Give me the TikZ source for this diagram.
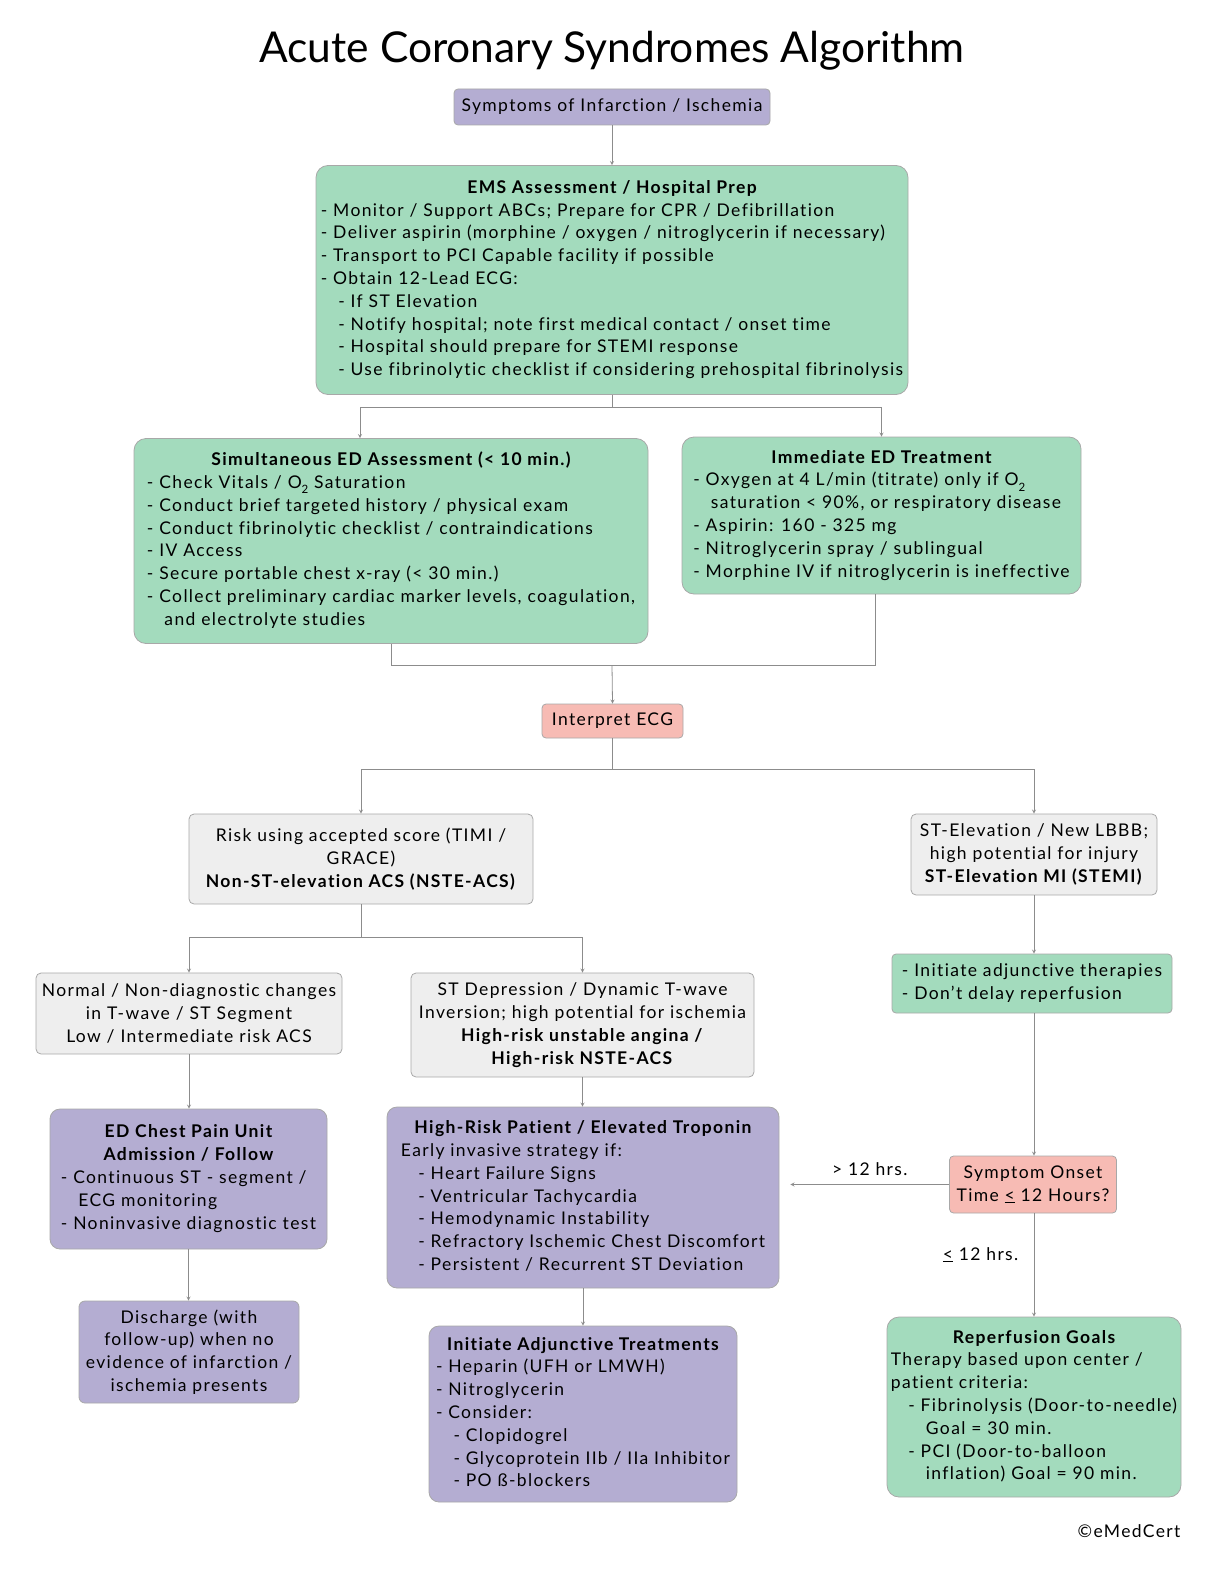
\documentclass[tikz,border=0pt]{standalone}
\usepackage{fontspec}
\setmainfont{Lato}[LetterSpace=7.8, Ligatures=NoCommon]
\newfontfamily\titlefont{Lato}
\usepackage{tikz}
\usetikzlibrary{positioning, calc, arrows.meta}
\newcommand{\bodysize}{\fontsize{17.5}{22.8}\selectfont}
\newcommand{\boxlines}[1]{\begin{tabular}{@{}l@{}}#1\end{tabular}}
\newcommand{\boxhead}[1]{\multicolumn{1}{@{}c@{}}{\bfseries #1}}
\newcommand{\subi}{\hspace*{1em}}
\newcommand{\subtwo}{\raisebox{-0.6ex}{\fontsize{11.5}{12}\selectfont 2}}
\definecolor{mintgreen}{HTML}{A3DBBD}
\definecolor{lavender}{HTML}{B4ADD2}
\definecolor{salmonpink}{HTML}{F7BBB4}
\definecolor{lightgrey}{HTML}{EEEEEE}
\definecolor{edgegrey}{HTML}{A8A8A8}
\definecolor{wiregrey}{HTML}{8C8C8C}
\tikzset{
  greenbox/.style={rectangle, rounded corners=12pt, draw=edgegrey, line width=0.8pt, fill=mintgreen, inner sep=3pt},
  purplebox/.style={rectangle, rounded corners=10pt, draw=edgegrey, line width=0.8pt, fill=lavender, inner sep=3pt},
  pinkbox/.style={rectangle, rounded corners=4pt, draw=edgegrey, line width=0.8pt, fill=salmonpink, inner sep=3pt, align=center},
  greybox/.style={rectangle, rounded corners=5pt, draw=edgegrey, line width=0.8pt, fill=lightgrey, inner sep=3pt, align=center},
  line/.style={draw=wiregrey, line width=0.8pt},
  arrow/.style={draw=wiregrey, line width=0.8pt, ->, >=stealth}
}

\begin{document}
\begin{tikzpicture}[x=1pt, y=-1pt, every node/.style={font=\bodysize}]
    \useasboundingbox (0,0) rectangle (1223,1584);

    \node (title) [font=\titlefont\fontsize{42.5}{50}\selectfont] at (612,51) {Acute Coronary Syndromes Algorithm};

    \node (sym) [purplebox, rounded corners=4pt, minimum width=316, minimum height=36] at (612,107) {Symptoms of Infarction / Ischemia};

    \node (ems) [greenbox, minimum width=592, minimum height=229] at (612,280) {\boxlines{%
      \boxhead{EMS Assessment / Hospital Prep}\\
      - Monitor / Support ABCs; Prepare for CPR / Defibrillation\\
      - Deliver aspirin (morphine / oxygen / nitroglycerin if necessary)\\
      - Transport to PCI Capable facility if possible\\
      - Obtain 12-Lead ECG:\\
      \subi - If ST Elevation\\
      \subi - Notify hospital; note first medical contact / onset time\\
      \subi - Hospital should prepare for STEMI response\\
      \subi - Use fibrinolytic checklist if considering prehospital fibrinolysis}};

    % Bloques en paralelo
    \node (sim) [greenbox, minimum width=514, minimum height=205] at (391,541) {\boxlines{%
      \boxhead{Simultaneous ED Assessment (< 10 min.)}\\
      - Check Vitals / O\subtwo{} Saturation\\
      - Conduct brief targeted history / physical exam\\
      - Conduct fibrinolytic checklist / contraindications\\
      - IV Access\\
      - Secure portable chest x-ray (< 30 min.)\\
      - Collect preliminary cardiac marker levels, coagulation,\\
      \subi and electrolyte studies}};

    \node (imm) [greenbox, minimum width=399, minimum height=157] at (881.5,515.5) {\boxlines{%
      \boxhead{Immediate ED Treatment}\\
      - Oxygen at 4 L/min (titrate) only if O\subtwo\\
      \subi saturation < 90\%, or respiratory disease\\
      - Aspirin: 160 - 325 mg\\
      - Nitroglycerin spray / sublingual\\
      - Morphine IV if nitroglycerin is ineffective}};

    \node (ecg) [pinkbox, minimum width=141, minimum height=34] at (612.5,721) {Interpret ECG};

    % Rama NSTE-ACS (izquierda)
    \node (risk) [greybox, minimum width=344, minimum height=90] at (361,859) {Risk using accepted score (TIMI /\\ GRACE)\\ \textbf{Non-ST-elevation ACS (NSTE-ACS)}};

    \node (normal) [greybox, minimum width=306, minimum height=81] at (189,1013.5) {Normal / Non-diagnostic changes\\ in T-wave / ST Segment\\ Low / Intermediate risk ACS};

    \node (stdep) [greybox, minimum width=343, minimum height=104] at (582.5,1025) {ST Depression / Dynamic T-wave\\ Inversion; high potential for ischemia\\ \textbf{High-risk unstable angina /}\\ \textbf{High-risk NSTE-ACS}};

    \node (chest) [purplebox, minimum width=277, minimum height=140] at (188.5,1179) {\boxlines{%
      \boxhead{ED Chest Pain Unit}\\
      \boxhead{Admission / Follow}\\
      - Continuous ST - segment /\\
      \subi ECG monitoring\\
      - Noninvasive diagnostic test}};

    \node (high) [purplebox, minimum width=392, minimum height=181] at (583,1197.5) {\boxlines{%
      \boxhead{High-Risk Patient / Elevated Troponin}\\
      Early invasive strategy if:\\
      \subi - Heart Failure Signs\\
      \subi - Ventricular Tachycardia\\
      \subi - Hemodynamic Instability\\
      \subi - Refractory Ischemic Chest Discomfort\\
      \subi - Persistent / Recurrent ST Deviation}};

    \node (disch) [purplebox, rounded corners=6pt, align=center, minimum width=220, minimum height=102] at (189,1352) {Discharge (with\\ follow-up) when no\\ evidence of infarction /\\ ischemia presents};

    \node (adj) [purplebox, minimum width=308, minimum height=176] at (583,1414) {\boxlines{%
      \boxhead{Initiate Adjunctive Treatments}\\
      - Heparin (UFH or LMWH)\\
      - Nitroglycerin\\
      - Consider:\\
      \subi - Clopidogrel\\
      \subi - Glycoprotein IIb / IIa Inhibitor\\
      \subi - PO ß-blockers}};

    % Rama STEMI (derecha)
    \node (stemi) [greybox, minimum width=246, minimum height=81] at (1034,854.5) {ST-Elevation / New LBBB;\\ high potential for injury\\ \textbf{ST-Elevation MI (STEMI)}};

    \node (ther) [greenbox, rounded corners=4pt, minimum width=280, minimum height=59] at (1032,983.5) {\boxlines{%
      - Initiate adjunctive therapies\\
      - Don’t delay reperfusion}};

    \node (onset) [pinkbox, minimum width=167, minimum height=57] at (1033,1184.5) {Symptom Onset\\ Time \underline{<} 12 Hours?};

    \node (rep) [greenbox, minimum width=294, minimum height=180] at (1034,1407) {\boxlines{%
      \boxhead{Reperfusion Goals}\\
      Therapy based upon center /\\
      patient criteria:\\
      \subi - Fibrinolysis (Door-to-needle)\\
      \subi\subi Goal = 30 min.\\
      \subi - PCI (Door-to-balloon\\
      \subi\subi inflation) Goal = 90 min.}};

    \node (credit) at (1129,1531) {©eMedCert};

    % Flechas
    \draw [arrow] (sym) -- (ems);
    \draw [line] (ems.south) -- ++(0,12) coordinate (split1);
    \draw [arrow] (split1) -| ([xshift=-31pt]sim.north);
    \draw [arrow] (split1) -| (imm.north);

    % Union hacia Interpret ECG
    \coordinate (join1) at (612,665);
    \draw [line] (sim.south) |- (join1);
    \draw [line] ([xshift=-6pt]imm.south) |- (join1);
    \draw [arrow] (join1) -- (ecg.north);

    \draw [line] (ecg.south) -- ++(0,31) coordinate (split2);
    \draw [arrow] (split2) -| (risk.north);
    \draw [arrow] (split2) -| (stemi.north);

    \draw [line] (risk.south) -- ++(0,33) coordinate (split3);
    \draw [arrow] (split3) -| (normal.north);
    \draw [arrow] (split3) -| (stdep.north);

    \draw [arrow] (normal.south) -- (normal.south |- chest.north);
    \draw [arrow] (chest.south) -- (chest.south |- disch.north);
    \draw [arrow] (stdep.south) -- (stdep.south |- high.north);
    \draw [arrow] (high.south) -- (high.south |- adj.north);

    \draw [arrow] (stemi.south) -- (stemi.south |- ther.north);
    \draw [arrow] (ther.south -| stemi.south) -- (onset.north -| stemi.south);

    % Salida ">12 hrs." hacia la izquierda
    \coordinate (hitend) at ([xshift=11pt]high.east);
    \draw [arrow] (onset.west) -- (onset.west -| hitend) node [pos=0.5, above=5pt] {> 12 hrs.};

    % Salida "<=12 hrs." hacia abajo
    \draw [arrow] (onset.south -| stemi.south) -- (rep.north -| stemi.south) node [pos=0.4, left=12pt] {\underline{<} 12 hrs.};

\end{tikzpicture}
\end{document}
